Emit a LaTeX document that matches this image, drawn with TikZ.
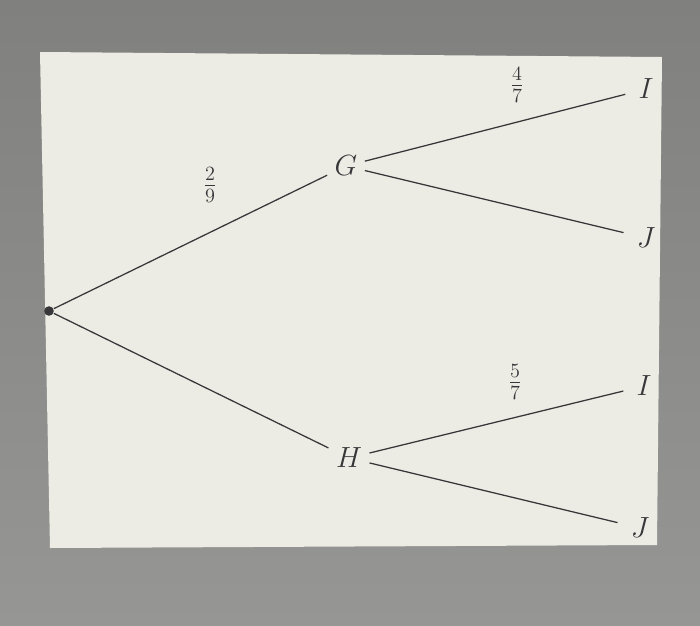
\documentclass[tikz,border=0pt]{standalone}
\usepackage{tikz}
\usetikzlibrary{shapes, arrows, positioning}
\definecolor{screengray}{RGB}{128,128,126}
\definecolor{deskgray}{RGB}{150,150,148}
\definecolor{paper}{RGB}{236,236,228}
\definecolor{ink}{RGB}{55,55,58}

\begin{document}
\begin{tikzpicture}[x=0.025cm, y=-0.025cm, thick, font=\fontsize{20}{24}\selectfont]

    % Define block styles
    \tikzstyle{branch} = [inner sep=5pt, text=ink]
    \tikzstyle{leaf} = [inner sep=9pt, text=ink]
    \tikzstyle{prob} = [text=ink]
    \tikzstyle{start} = [circle, fill=ink, inner sep=0pt, minimum size=0.24cm]
    \tikzstyle{line} = [draw=ink, line width=0.9pt]

    % Background (photo of the screen)
    \useasboundingbox (0,0) rectangle (700,626);
    \shade [top color=screengray, bottom color=deskgray] (0,0) rectangle (700,626);
    \fill [paper] (40,52) -- (662,57) -- (657,545) -- (50,548) -- cycle;

    % Define nodes
    \node [start] (root) at (49,311) {};
    \node [branch] (g) at (346,166) {$G$};
    \node [branch] (h) at (349,458) {$H$};
    \node [leaf] (gi) at (646,89) {$I$};
    \node [leaf] (gj) at (646,238) {$J$};
    \node [leaf] (hi) at (644,386) {$I$};
    \node [leaf] (hj) at (640,528) {$J$};
    \node [prob] (pg) at (210,185) {$\frac{2}{9}$};
    \node [prob] (pgi) at (517,85) {$\frac{4}{7}$};
    \node [prob] (phi) at (515,382) {$\frac{5}{7}$};

    % Draw edges
    \path [line] (root) -- (g);
    \path [line] (root) -- (h);
    \path [line] (g) -- (gi);
    \path [line] (g) -- (gj);
    \path [line] (h) -- (hi);
    \path [line] (h) -- (hj);

\end{tikzpicture}
\end{document}
